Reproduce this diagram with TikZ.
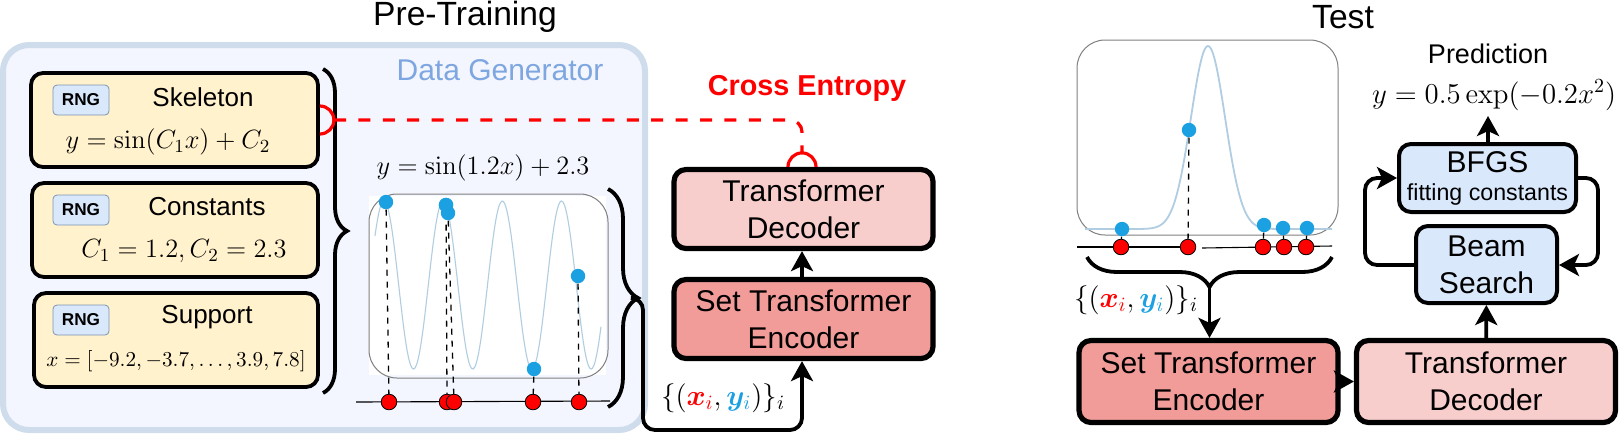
\RequirePackage{fix-cm}
\documentclass[tikz,border=0pt]{standalone}
\usepackage{amsmath}
\usepackage{bm}
\usepackage[no-math]{fontspec}
\setmainfont{Liberation Sans}
\usetikzlibrary{arrows.meta, decorations.pathreplacing}

\definecolor{genfill}{HTML}{F3F6FE}
\definecolor{genline}{HTML}{CFDCEC}
\definecolor{gentext}{HTML}{7EA6E0}
\definecolor{yellowbox}{HTML}{FFF2CC}
\definecolor{bluebox}{HTML}{DAE8FC}
\definecolor{rngline}{HTML}{7C94B4}
\definecolor{decfill}{HTML}{F8CECC}
\definecolor{encfill}{HTML}{F19C99}
\definecolor{curve}{HTML}{B0CDE2}
\definecolor{ypoint}{HTML}{1BA1E2}

\tikzset{
  sizeA/.style={font=\fontsize{15}{18.5}\selectfont},
  block/.style={draw=black,rounded corners=6pt,inner sep=0pt,align=center,sizeA},
  genbox/.style={block,fill=yellowbox,line width=1.9pt,minimum height=47pt},
  rngbox/.style={draw=rngline,fill=bluebox,rounded corners=2pt,line width=0.4pt,minimum width=28pt,
                 minimum height=15pt,inner sep=0pt,font=\fontsize{8.6}{10}\selectfont\bfseries},
  boxtitle/.style={inner sep=0pt,font=\fontsize{13}{15}\selectfont},
  mathtext/.style={inner sep=0pt,font=\fontsize{13.2}{16}\selectfont},
  encoder/.style={block,fill=encfill,line width=2.6pt,minimum width=129.5pt},
  decoder/.style={block,fill=decfill,line width=2.6pt,minimum width=129.5pt},
  searchbox/.style={block,fill=bluebox,line width=2pt},
  link/.style={-{Stealth[length=10pt,width=11pt,inset=2.5pt]},draw=black,line width=1.9pt,rounded corners=6pt},
  xpoint/.style={circle,draw=black,fill=red,line width=0.4pt,minimum size=7.8pt,inner sep=0pt},
  ypt/.style={circle,fill=ypoint,minimum size=7.2pt,inner sep=0pt},
  drop/.style={draw=black,dashed,line width=0.65pt},
  panel/.style={draw=black!50,rounded corners=14pt,line width=0.5pt},
  axisline/.style={draw=black,line width=0.55pt},
  bracket/.style={draw=black,line width=1.9pt,decorate},
  loss/.style={draw=red,line width=1.6pt}
}
\newcommand{\pairset}{$\{(\textcolor{red}{\bm{x}_i},\textcolor{ypoint}{\bm{y}_i})\}_i$}

\begin{document}
\begin{tikzpicture}[x=0.5pt,y=-0.5pt]
  \useasboundingbox (0,0) rectangle (1620,436);

  % pre-training
  \node[font=\fontsize{16.8}{20}\selectfont] (pretitle) at (465,17) {Pre-Training};
  \node[draw=genline,fill=genfill,line width=3pt,rounded corners=13pt,minimum width=321pt,minimum height=192.5pt] (gen) at (324,237.5) {};
  \node[sizeA,text=gentext] (gentitle) at (500,70) {Data Generator};

  \node[genbox,minimum width=143.5pt] (skel) at (174.5,120) {};
  \node[genbox,minimum width=143pt] (cons) at (175,230) {};
  \node[genbox,minimum width=142pt] (supp) at (176,340) {};
  \node[rngbox] (rng1) at (81,100) {RNG};
  \node[rngbox] (rng2) at (81,210) {RNG};
  \node[rngbox] (rng3) at (81,320) {RNG};
  \node[boxtitle] (skeltext) at (203,97) {Skeleton};
  \node[boxtitle] (constext) at (207,207) {Constants};
  \node[boxtitle] (supptext) at (207,317) {Support};
  \node[mathtext] (skelmath) at (168,142) {$y=\sin(C_1x)+C_2$};
  \node[mathtext] (consmath) at (184,251) {$C_1=1.2,C_2=2.3$};
  \node[inner sep=0pt,font=\fontsize{10.6}{12}\selectfont] (suppmath) at (176,361) {$x=[-9.2,-3.7,\dots,3.9,7.8]$};

  \coordinate (gentop) at (323,69);
  \coordinate (genbot) at (323,393);
  \draw[bracket,decoration={brace,amplitude=12pt}] (gentop) -- (genbot);

  % sampled sine
  \node[mathtext] (sinetext) at (483,168) {$y=\sin(1.2x)+2.3$};
  \fill[white] (369,196) rectangle (606,375);
  \node[panel,minimum width=119.5pt,minimum height=92pt] (plot) at (488.5,286) {};
  \draw[curve,line width=0.55pt,domain=375:601,samples=160,smooth] plot (\x,{285-84*cos((\x-502.3)/59.2*360)});
  \coordinate (axisa) at (356,402);
  \coordinate (axisb) at (610,401);
  \draw[axisline] (axisa) -- (axisb);
  \foreach \nm/\bx/\by/\rx in {a/386/202/389,b/446/205/447,c/448/213/454,d/534/369/533,e/578/276/579}{
    \node[ypt] (y\nm) at (\bx,\by) {};
    \node[xpoint] (x\nm) at (\rx,402) {};
    \draw[drop] (y\nm) -- (x\nm);
  }
  \node[ypt] (yb) at (446,205) {};

  \coordinate (sampletop) at (608,189);
  \coordinate (samplebot) at (608,407);
  \coordinate (sampletip) at (638,298);
  \draw[bracket,decoration={brace,amplitude=15pt}] (sampletop) -- (samplebot);

  \node[decoder,minimum height=39.5pt] (dec) at (803.5,209) {Transformer\\Decoder};
  \node[encoder,minimum height=39.5pt] (enc) at (803.5,319) {Set Transformer\\Encoder};
  \node[inner sep=0pt,font=\fontsize{14.5}{17}\selectfont] (settext) at (723,398) {\pairset};
  \coordinate (benda) at (643,298);
  \coordinate (bendb) at (643,430);
  \coordinate (bendc) at (802,430);
  \draw[link] (sampletip) -- (benda) -- (bendb) -- (bendc) -- (enc.south -| bendc);
  \draw[link] (enc.north -| bendc) -- (dec.south -| bendc);

  % loss
  \node[font=\fontsize{14.4}{17}\selectfont\bfseries,text=red] (losstext) at (807,88) {Cross Entropy};
  \coordinate (lossa) at (334,120);
  \coordinate (lossb) at (802,120);
  \coordinate (lossc) at (802,153);
  \draw[loss] ([yshift=7pt]skel.east) arc (-90:90:14);
  \draw[loss] ([xshift=-7pt]dec.north -| lossc) arc (180:360:14);
  \draw[loss,dash pattern=on 6pt off 6.2pt,rounded corners=6pt] (lossa) -- (lossb) -- (lossc);

  % test
  \node[font=\fontsize{16.8}{20}\selectfont] (testtitle) at (1343,17) {Test};
  \node[panel,minimum width=130.5pt,minimum height=97.5pt] (tplot) at (1207.5,137.5) {};
  \draw[curve,line width=0.9pt,domain=1085:1332,samples=160,smooth] plot (\x,{229-183*exp(-(\x-1208)/24.2*(\x-1208)/24.2)});
  \coordinate (taxisa) at (1077,247);
  \coordinate (taxisb) at (1186,247);
  \coordinate (taxisc) at (1202,248);
  \coordinate (taxisd) at (1332,246);
  \draw[axisline] (taxisa) -- (taxisb);
  \draw[axisline] (taxisc) -- (taxisd);
  \foreach \nm/\bx/\by/\rx in {a/1122/229/1121,b/1189/130/1188,c/1264/225/1263,d/1283/228/1284,e/1307/228/1306}{
    \node[ypt] (ty\nm) at (\bx,\by) {};
    \node[xpoint] (tx\nm) at (\rx,247) {};
    \draw[drop] (ty\nm) -- (tx\nm);
  }

  \coordinate (tsampleb) at (1087,257);
  \coordinate (tsamplea) at (1332,257);
  \coordinate (tsampletip) at (1209.5,285);
  \draw[bracket,decoration={brace,amplitude=15pt}] (tsamplea) -- (tsampleb);
  \node[inner sep=0pt,font=\fontsize{14.5}{17}\selectfont] (tsettext) at (1136,300) {\pairset};

  \node[encoder,minimum height=41pt] (tenc) at (1208.5,381.5) {Set Transformer\\Encoder};
  \node[decoder,minimum height=41pt] (tdec) at (1486,381.5) {Transformer\\Decoder};
  \node[searchbox,minimum width=70.5pt,minimum height=38.5pt] (beam) at (1486.5,264.5) {Beam\\Search};
  \node[searchbox,minimum width=88.5pt,minimum height=34pt] (bfgs) at (1487.5,178) {BFGS\\[-4.5pt]{\fontsize{11.6}{13}\selectfont fitting constants}};
  \node[inner sep=0pt,font=\fontsize{13.5}{16}\selectfont] (predtext) at (1488,54) {Prediction};
  \node[inner sep=0pt,font=\fontsize{14.4}{17}\selectfont] (predmath) at (1494,95) {$y=0.5\exp(-0.2x^2)$};
  \coordinate (predtip) at (1488,116);
  \coordinate (lefta) at (1365,265);
  \coordinate (leftb) at (1365,178);
  \coordinate (righta) at (1598,178);
  \coordinate (rightb) at (1598,265);

  \draw[link] (tsampletip) -- (tenc.north -| tsampletip);
  \draw[link] (tenc) -- (tdec);
  \draw[link] (tdec) -- (beam);
  \draw[link] (bfgs.north -| predtip) -- (predtip);
  \draw[link] (beam.west |- lefta) -- (lefta) -- (leftb) -- (bfgs.west |- leftb);
  \draw[link] (bfgs.east |- righta) -- (righta) -- (rightb) -- (beam.east |- rightb);
\end{tikzpicture}
\end{document}
